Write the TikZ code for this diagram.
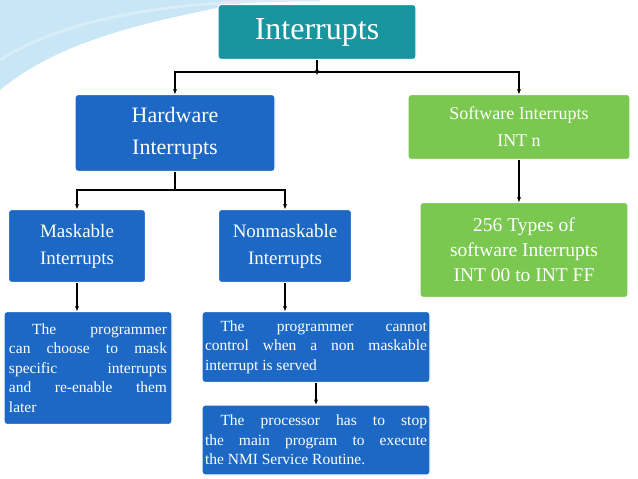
\documentclass[tikz,border=0pt]{standalone}
\usepackage{fontspec}
\setmainfont{Liberation Serif}
\usetikzlibrary{arrows.meta}
\definecolor{teal1}{RGB}{23,150,160}
\definecolor{blue1}{RGB}{28,104,196}
\definecolor{green1}{RGB}{122,200,80}
\definecolor{wave}{RGB}{200,230,245}
\newcommand\nohy{\hyphenpenalty=10000 \exhyphenpenalty=10000 }
\begin{document}
\begin{tikzpicture}[x=1pt,y=-1pt,
 box/.style={draw=white,line width=1.2pt,rounded corners=3pt,text=white,align=center,inner sep=0pt},
 ln/.style={line width=1.2pt},
 ar/.style={line width=1.2pt,-{Stealth[length=5pt,width=4pt]}},
 para/.style={box,fill=blue1,font=\fontsize{15.5}{19.5}\selectfont,align=justify,text width=#1}]
\useasboundingbox (0,0) rectangle (638,479);
\fill[white] (0,0) rectangle (638,479);
\fill[wave] (0,0) -- (260,0) .. controls (150,20) and (60,40) .. (0,90) -- cycle;
\draw[wave!70!white,line width=3pt] (0,60) .. controls (80,10) and (200,0) .. (320,0);
\node[box,fill=teal1,minimum width=198pt,minimum height=55pt,font=\fontsize{32}{34}\selectfont] (int) at (317,32) {Interrupts};
\node[box,fill=blue1,minimum width=200pt,minimum height=77pt,font=\fontsize{22}{32}\selectfont] (hw) at (175,133) {Hardware\\Interrupts};
\node[box,fill=green1,minimum width=222pt,minimum height=65pt,font=\fontsize{18}{27}\selectfont] (sw) at (519,127) {Software Interrupts\\INT n};
\node[box,fill=green1,minimum width=208pt,minimum height=95pt,font=\fontsize{19.5}{25}\selectfont] (t256) at (524,250) {256 Types of\\software Interrupts\\INT 00 to INT FF};
\node[box,fill=blue1,minimum width=137pt,minimum height=73pt,font=\fontsize{19}{27}\selectfont] (mask) at (77,246) {Maskable\\Interrupts};
\node[box,fill=blue1,minimum width=133pt,minimum height=73pt,font=\fontsize{19}{27}\selectfont] (nmask) at (285,246) {Nonmaskable\\Interrupts};
\node[para=158pt,minimum height=113pt,inner xsep=5pt] (p1) at (88,368) {\nohy\hspace*{1.5em}The programmer\linebreak can choose to mask\linebreak specific interrupts\linebreak and re-enable them\linebreak later};
\node[para=222pt,minimum height=71pt,inner xsep=3pt] (p2) at (316,347) {\nohy\hspace*{1em}The programmer cannot\linebreak control when a non maskable\linebreak interrupt is served};
\node[para=222pt,minimum height=70pt,inner xsep=3pt] (p3) at (316,440) {\nohy\hspace*{1em}The processor has to stop\linebreak the main program to execute\linebreak the NMI Service Routine.};
\coordinate (j1) at (317,72);
\draw[ln] (int.south) -- (j1);
\draw[ar] (j1) -- ++(0,3);
\draw[ar] (j1) -| (hw.north);
\draw[ar] (j1) -| (sw.north);
\draw[ar] (sw.south) -- (sw.south|-t256.north);
\coordinate (j2) at (175,190);
\draw[ln] (hw.south) -- (j2);
\draw[ar] (j2) -| (mask.north);
\draw[ar] (j2) -| (nmask.north);
\draw[ar] (mask.south) -- (mask.south|-p1.north);
\draw[ar] (nmask.south) -- (nmask.south|-p2.north);
\draw[ar] (p2.south) -- (p3.north);
\end{tikzpicture}
\end{document}
